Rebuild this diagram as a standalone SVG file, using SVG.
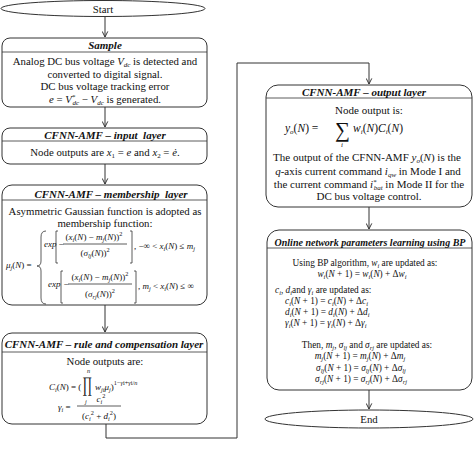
<svg xmlns="http://www.w3.org/2000/svg" width="474" height="449" viewBox="0 0 474 449" font-family="Liberation Serif, Times New Roman, serif">
<defs>
<style>
.box{fill:#fff;stroke:#333;stroke-width:1}
.dv{stroke:#333;stroke-width:0.8;fill:none}
.conn{fill:none;stroke:#333;stroke-width:1}
text{font-family:Liberation Serif, Times New Roman, serif;fill:#111}
.c{text-anchor:middle}
.b{font-size:10.8px}
.bo{font-size:11px}
.ti{font-size:11px;font-weight:bold;font-style:italic;text-anchor:middle}
.i{font-style:italic}
.s{font-size:7px}
.m{font-size:9px}
.ms{font-size:6.3px}
.l{font-size:9.3px}
.ls{font-size:6.5px}
</style>
<marker id="arr" viewBox="0 0 10 10" refX="9" refY="5" markerWidth="7" markerHeight="7" orient="auto">
<path d="M1,1 L9,5 L1,9" fill="none" stroke="#333" stroke-width="1.4"/>
</marker>
</defs>
<rect width="474" height="449" fill="#fff"/>

<g id="connectors">
<path class="conn" d="M105,17 L105,37" marker-end="url(#arr)"/>
<path class="conn" d="M105,107 L105,127" marker-end="url(#arr)"/>
<path class="conn" d="M105,164 L105,184" marker-end="url(#arr)"/>
<path class="conn" d="M105,305 L105,332" marker-end="url(#arr)"/>
<path class="conn" d="M106,424 L106,438 L237,438 L237,63 L369,63 L369,84" marker-end="url(#arr)"/>
<path class="conn" d="M369,207 L369,229" marker-end="url(#arr)"/>
<path class="conn" d="M369,390 L369,409" marker-end="url(#arr)"/>
</g>

<g id="start">
<ellipse class="box" cx="103" cy="8.5" rx="102" ry="8"/>
<text class="b c" x="103" y="12.5">Start</text>
</g>

<g id="sample">
<rect class="box" x="2" y="38" width="205" height="69" rx="8"/>
<line class="dv" x1="2" y1="52" x2="207" y2="52"/>
<text class="ti" x="105" y="49">Sample</text>
<text class="b c" x="105" y="65">Analog DC bus voltage <tspan class="i">V</tspan><tspan class="s i" dy="2">dc</tspan><tspan dy="-2"> is detected and</tspan></text>
<text class="b c" x="105" y="78">converted to digital signal.</text>
<text class="b c" x="105" y="90">DC bus voltage tracking error</text>
<text class="b c" x="105" y="103"><tspan class="i">e</tspan> = <tspan class="i">V</tspan><tspan class="s" dy="-4">*</tspan><tspan class="s i" dx="-3" dy="6">dc</tspan><tspan dy="-2"> − </tspan><tspan class="i">V</tspan><tspan class="s i" dy="2">dc</tspan><tspan dy="-2"> is generated.</tspan></text>
</g>

<g id="input">
<rect class="box" x="2" y="128" width="205" height="36" rx="8"/>
<line class="dv" x1="2" y1="141" x2="207" y2="141"/>
<text class="ti" x="105" y="138.5">CFNN-AMF – input&#160; layer</text>
<text class="b c" x="105" y="155.5">Node outputs are <tspan class="i">x</tspan><tspan class="s" dy="2">1</tspan><tspan dy="-2"> = </tspan><tspan class="i">e</tspan> and <tspan class="i">x</tspan><tspan class="s" dy="2">2</tspan><tspan dy="-2"> = </tspan><tspan class="i">ė</tspan>.</text>
</g>

<g id="membership">
<rect class="box" x="2" y="185" width="205" height="120" rx="10"/>
<line class="dv" x1="2" y1="200" x2="207" y2="200"/>
<text class="ti" x="111" y="197.5">CFNN-AMF – membership&#160; layer</text>
<text class="b c" x="105" y="215">Asymmetric Gaussian function is adopted as</text>
<text class="b c" x="105" y="226.5">membership function:</text>
<text class="m" x="6" y="268"><tspan class="i">μ</tspan><tspan class="ms i" dy="2">j</tspan><tspan dy="-2">(</tspan><tspan class="i">N</tspan>) =</text>
<path class="dv" d="M46,231 Q41,231 41,237 L41,261 Q41,266 37,266 Q41,266 41,271 L41,298 Q41,304 46,304"/>
<text class="m i" x="44" y="247">exp</text>
<path class="dv" d="M58,231 L56,231 L56,263 L58,263"/>
<text class="m" x="58.5" y="247">−</text>
<text class="m c" x="94" y="240">(<tspan class="i">x</tspan><tspan class="ms i" dy="2">i</tspan><tspan dy="-2">(</tspan><tspan class="i">N</tspan>) − <tspan class="i">m</tspan><tspan class="ms i" dy="2">j</tspan><tspan dy="-2">(</tspan><tspan class="i">N</tspan>))<tspan class="ms" dy="-4">2</tspan></text>
<line class="dv" x1="63" y1="244" x2="127" y2="244"/>
<text class="m c" x="95" y="256">(<tspan class="i">σ</tspan><tspan class="ms i" dy="2">lj</tspan><tspan dy="-2">(</tspan><tspan class="i">N</tspan>))<tspan class="ms" dy="-4">2</tspan></text>
<path class="dv" d="M130,231 L132,231 L132,263 L130,263"/>
<text class="m" x="134" y="249">, −∞ &lt; <tspan class="i">x</tspan><tspan class="ms i" dy="2">i</tspan><tspan dy="-2">(</tspan><tspan class="i">N</tspan>) ≤ <tspan class="i">m</tspan><tspan class="ms i" dy="2">j</tspan></text>
<text class="m i" x="48" y="287">exp</text>
<path class="dv" d="M63,271 L61,271 L61,303 L63,303"/>
<text class="m" x="63.5" y="287">−</text>
<text class="m c" x="100" y="280">(<tspan class="i">x</tspan><tspan class="ms i" dy="2">i</tspan><tspan dy="-2">(</tspan><tspan class="i">N</tspan>) − <tspan class="i">m</tspan><tspan class="ms i" dy="2">j</tspan><tspan dy="-2">(</tspan><tspan class="i">N</tspan>))<tspan class="ms" dy="-4">2</tspan></text>
<line class="dv" x1="68" y1="284" x2="132" y2="284"/>
<text class="m c" x="100" y="297">(<tspan class="i">σ</tspan><tspan class="ms i" dy="2">rj</tspan><tspan dy="-2">(</tspan><tspan class="i">N</tspan>))<tspan class="ms" dy="-4">2</tspan></text>
<path class="dv" d="M134,271 L136,271 L136,303 L134,303"/>
<text class="m" x="138" y="289">, <tspan class="i">m</tspan><tspan class="ms i" dy="2">j</tspan><tspan dy="-2"> &lt; </tspan><tspan class="i">x</tspan><tspan class="ms i" dy="2">i</tspan><tspan dy="-2">(</tspan><tspan class="i">N</tspan>) ≤ ∞</text>
</g>

<g id="rule">
<rect class="box" x="2" y="333" width="205" height="91" rx="10"/>
<line class="dv" x1="2" y1="352" x2="207" y2="352"/>
<text class="ti" x="104" y="348">CFNN-AMF – rule and compensation layer</text>
<text class="b c" x="105" y="365">Node outputs are:</text>
<text class="m" x="49" y="390"><tspan class="i">C</tspan><tspan class="ms i" dy="2">i</tspan><tspan dy="-2">(</tspan><tspan class="i">N</tspan>) = (</text>
<text transform="translate(83,392) scale(0.55,1)" font-family="DejaVu Serif, serif" style="font-family:DejaVu Serif, serif;font-size:20px">∏</text>
<text class="ms i" x="87" y="373">n</text>
<text class="ms i" x="85" y="404">j</text>
<text class="m" x="95" y="390"><tspan class="i">w</tspan><tspan class="ms i" dy="2">ji</tspan><tspan class="i" dy="-2">μ</tspan><tspan class="ms i" dy="2">j</tspan><tspan dy="-2">)</tspan><tspan class="ms" dy="-5">1−</tspan><tspan class="ms i">γ</tspan><tspan class="ms">i+</tspan><tspan class="ms i">γ</tspan><tspan class="ms">i/</tspan><tspan class="ms i">n</tspan></text>
<text class="m" x="58" y="410"><tspan class="i">γ</tspan><tspan class="ms i" dy="2">i</tspan><tspan dy="-2"> =</tspan></text>
<text class="m c" x="101" y="402"><tspan class="i">c</tspan><tspan class="ms i" dy="2">i</tspan><tspan class="ms" dy="-6">2</tspan></text>
<line class="dv" x1="77" y1="406" x2="121" y2="406"/>
<text class="m c" x="99" y="419">(<tspan class="i">c</tspan><tspan class="ms i" dy="2">i</tspan><tspan class="ms" dy="-6">2</tspan><tspan dy="4"> + </tspan><tspan class="i">d</tspan><tspan class="ms i" dy="2">i</tspan><tspan class="ms" dy="-6">2</tspan><tspan dy="4">)</tspan></text>
</g>

<g id="output">
<rect class="box" x="266" y="85" width="206" height="122" rx="12"/>
<line class="dv" x1="266" y1="98" x2="472" y2="98"/>
<text class="ti" x="364" y="95.5">CFNN-AMF – output layer</text>
<text class="bo c" x="369" y="114">Node output is:</text>
<text x="285" y="132" style="font-size:11.5px"><tspan class="i">y</tspan><tspan class="s i" dy="2">o</tspan><tspan dy="-2">(</tspan><tspan class="i">N</tspan>) =</text>
<text x="335" y="137" style="font-size:21px">∑</text>
<text class="s i" x="341" y="147">i</text>
<text x="353" y="132" style="font-size:11.5px"><tspan class="i">w</tspan><tspan class="s i" dy="2">i</tspan><tspan dy="-2">(</tspan><tspan class="i">N</tspan>)<tspan class="i">C</tspan><tspan class="s i" dy="2">i</tspan><tspan dy="-2">(</tspan><tspan class="i">N</tspan>)</text>
<text class="bo c" x="367" y="161">The output of the CFNN-AMF <tspan class="i">y</tspan><tspan class="s i" dy="2">o</tspan><tspan dy="-2">(</tspan><tspan class="i">N</tspan>) is the</text>
<text class="bo c" x="368" y="174.5"><tspan class="i">q</tspan>-axis current command <tspan class="i">i</tspan><tspan class="s i" dy="2">qw</tspan><tspan dy="-2">  in Mode I and</tspan></text>
<text class="bo c" x="369" y="187.5">the current command  <tspan class="i">i</tspan><tspan class="s" dy="-4">*</tspan><tspan class="s i" dx="-3" dy="6">bat</tspan><tspan dy="-2">  in Mode II for the</tspan></text>
<text class="bo c" x="369" y="200">DC bus voltage control.</text>
</g>

<g id="learning">
<rect class="box" x="267" y="230" width="205" height="160" rx="12"/>
<line class="dv" x1="267" y1="248" x2="472" y2="248"/>
<text class="ti" x="370" y="245.5" style="font-size:10px">Online network parameters learning using BP</text>
<text class="l c" x="365" y="266">Using BP algorithm, <tspan class="i">w</tspan><tspan class="ls i" dy="2">i</tspan><tspan dy="-2"> are updated as:</tspan></text>
<text class="l c" x="362" y="277"><tspan class="i">w</tspan><tspan class="ls i" dy="2">i</tspan><tspan dy="-2">(</tspan><tspan class="i">N</tspan> + 1) = <tspan class="i">w</tspan><tspan class="ls i" dy="2">i</tspan><tspan dy="-2">(</tspan><tspan class="i">N</tspan>) + Δ<tspan class="i">w</tspan><tspan class="ls i" dy="2">i</tspan></text>
<text class="l" x="275" y="293"><tspan class="i">c</tspan><tspan class="ls i" dy="2">i</tspan><tspan dy="-2">, </tspan><tspan class="i">d</tspan><tspan class="ls i" dy="2">i</tspan><tspan dy="-2">and </tspan><tspan class="i">γ</tspan><tspan class="ls i" dy="2">i</tspan><tspan dy="-2"> are updated as:</tspan></text>
<text class="l" x="285" y="303.5"><tspan class="i">c</tspan><tspan class="ls i" dy="2">i</tspan><tspan dy="-2">(</tspan><tspan class="i">N</tspan> + 1) = <tspan class="i">c</tspan><tspan class="ls i" dy="2">i</tspan><tspan dy="-2">(</tspan><tspan class="i">N</tspan>) + Δ<tspan class="i">c</tspan><tspan class="ls i" dy="2">i</tspan></text>
<text class="l" x="285" y="314.5"><tspan class="i">d</tspan><tspan class="ls i" dy="2">i</tspan><tspan dy="-2">(</tspan><tspan class="i">N</tspan> + 1) = <tspan class="i">d</tspan><tspan class="ls i" dy="2">i</tspan><tspan dy="-2">(</tspan><tspan class="i">N</tspan>) + Δ<tspan class="i">d</tspan><tspan class="ls i" dy="2">i</tspan></text>
<text class="l" x="285" y="325.5"><tspan class="i">γ</tspan><tspan class="ls i" dy="2">i</tspan><tspan dy="-2">(</tspan><tspan class="i">N</tspan> + 1) = <tspan class="i">γ</tspan><tspan class="ls i" dy="2">i</tspan><tspan dy="-2">(</tspan><tspan class="i">N</tspan>) + Δ<tspan class="i">γ</tspan><tspan class="ls i" dy="2">i</tspan></text>
<text class="l c" x="367" y="348">Then, <tspan class="i">m</tspan><tspan class="ls i" dy="2">j</tspan><tspan dy="-2">,  </tspan><tspan class="i">σ</tspan><tspan class="ls i" dy="2">lj</tspan><tspan dy="-2"> and </tspan><tspan class="i">σ</tspan><tspan class="ls i" dy="2">rj</tspan><tspan dy="-2"> are updated as:</tspan></text>
<text class="l c" x="360" y="359"><tspan class="i">m</tspan><tspan class="ls i" dy="2">j</tspan><tspan dy="-2">(</tspan><tspan class="i">N</tspan> + 1) = <tspan class="i">m</tspan><tspan class="ls i" dy="2">j</tspan><tspan dy="-2">(</tspan><tspan class="i">N</tspan>) + Δ<tspan class="i">m</tspan><tspan class="ls i" dy="2">j</tspan></text>
<text class="l c" x="361" y="370.5"><tspan class="i">σ</tspan><tspan class="ls i" dy="2">lj</tspan><tspan dy="-2">(</tspan><tspan class="i">N</tspan> + 1) = <tspan class="i">σ</tspan><tspan class="ls i" dy="2">lj</tspan><tspan dy="-2">(</tspan><tspan class="i">N</tspan>) + Δ<tspan class="i">σ</tspan><tspan class="ls i" dy="2">lj</tspan></text>
<text class="l c" x="361" y="382"><tspan class="i">σ</tspan><tspan class="ls i" dy="2">rj</tspan><tspan dy="-2">(</tspan><tspan class="i">N</tspan> + 1) = <tspan class="i">σ</tspan><tspan class="ls i" dy="2">rj</tspan><tspan dy="-2">(</tspan><tspan class="i">N</tspan>) + Δ<tspan class="i">σ</tspan><tspan class="ls i" dy="2">rj</tspan></text>
</g>

<g id="end">
<ellipse class="box" cx="369" cy="419" rx="104" ry="9"/>
<text class="b c" x="369" y="423">End</text>
</g>
</svg>
